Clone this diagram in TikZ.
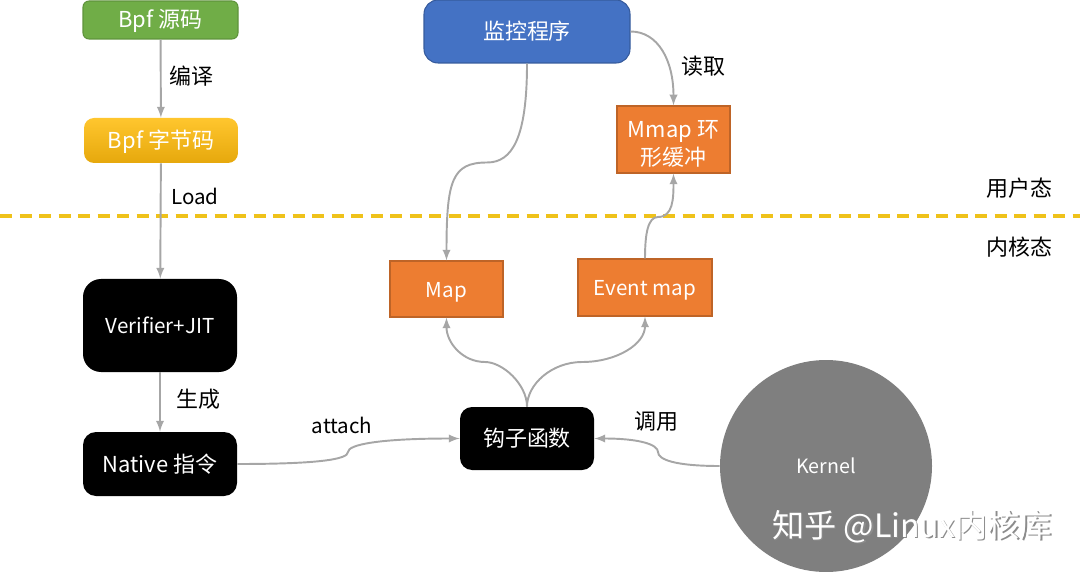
\documentclass[tikz,border=0pt]{standalone}
\usepackage{fontspec}
\setmainfont{Noto Sans CJK SC}
\definecolor{linkgray}{HTML}{A6A6A6}
\definecolor{boxorange}{HTML}{ED7D31}
\definecolor{boxgreen}{HTML}{70AD47}
\definecolor{boxblue}{HTML}{4472C4}
\definecolor{kernelgray}{HTML}{7F7F7F}
\definecolor{boundary}{HTML}{EFC21A}
\definecolor{goldtop}{HTML}{FFC62E}
\definecolor{goldbottom}{HTML}{E6A80C}
\begin{document}
\begin{tikzpicture}
		% coordinates are image pixels times 0.02, y going down
		[box/.style={rectangle,text=white,inner sep=0pt,font=\fontsize{12.5}{16}\selectfont,align=center},
		oneline/.style={text height=0.36cm,text depth=0.04cm},
		latin/.style={font=\fontsize{11.7}{16}\selectfont},
		blackbox/.style={box,oneline,fill=black},
		orangebox/.style={box,fill=boxorange,draw=boxorange!80!black,line width=0.6pt},
		caption/.style={font=\fontsize{12.5}{15.5}\selectfont,inner sep=0pt},
		link/.style={->,>=latex,draw=linkgray,line width=1.1pt},
		watermark/.style={font=\fontsize{18.3}{22}\selectfont,inner sep=0pt}]
		\useasboundingbox (0,0) rectangle (21.6,-11.44);

		\coordinate (left) at (0,-4.32);
		\coordinate (right) at (21.6,-4.32);
		\draw[boundary,line width=2pt,dash pattern=on 0.24cm off 0.15cm] (left) -- (right);

		\node[box,oneline,fill=boxgreen,draw=boxgreen!85!black,line width=0.6pt,rounded corners=0.12cm,minimum width=3.1cm,minimum height=0.76cm] (source) at (3.21,-0.40) {Bpf 源码};
		\node[box,oneline,top color=goldtop,bottom color=goldbottom,rounded corners=0.2cm,minimum width=3.08cm,minimum height=0.9cm] (bytecode) at (3.22,-2.81) {Bpf 字节码};
		\node[blackbox,latin,rounded corners=0.36cm,minimum width=3.08cm,minimum height=1.86cm] (verifier) at (3.2,-6.51) {Verifier+JIT};
		\node[blackbox,rounded corners=0.26cm,minimum width=3.08cm,minimum height=1.28cm] (native) at (3.2,-9.28) {Native 指令};
		\node[blackbox,rounded corners=0.24cm,minimum width=2.68cm,minimum height=1.26cm] (hook) at (10.54,-8.77) {钩子函数};
		\node[box,oneline,fill=boxblue,draw=boxblue!80!black,line width=0.6pt,rounded corners=0.28cm,minimum width=4.12cm,minimum height=1.26cm] (monitor) at (10.54,-0.63) {监控程序};
		\node[orangebox,minimum width=2.26cm,minimum height=1.34cm] (mmap) at (13.47,-2.79) {\rule{0pt}{15pt}Mmap 环\\形缓冲};
		\node[orangebox,oneline,latin,minimum width=2.26cm,minimum height=1.12cm] (map) at (8.93,-5.78) {Map};
		\node[orangebox,oneline,latin,minimum width=2.68cm,minimum height=1.14cm] (event) at (12.9,-5.75) {Event map};
		\node[circle,fill=kernelgray,text=white,minimum size=4.24cm,inner sep=0pt,font=\fontsize{11.2}{13}\selectfont] (kernel) at (16.52,-9.32) {Kernel};

		\coordinate (monitormid) at (9.74,-3.25);
		\coordinate (eventmid) at (13.16,-4.34);
		\coordinate (hookleft) at (9.7,-7.24);
		\coordinate (hookright) at (11.64,-7.24);
		\coordinate (nativemid) at (6.96,-9.04);
		\coordinate (kernelmid) at (13.16,-9.04);

		\draw[link] (source) -- (bytecode);
		\draw[link] (bytecode) -- (verifier);
		\draw[link] (verifier) -- (native);
		\draw[link] (monitor.south) .. controls +(0,-1.5) and +(0.5,0) .. (monitormid) .. controls +(-0.7,0) and +(0,1.6) .. (map.north);
		\draw[link] (monitor.east) .. controls +(0.55,0) and +(0,0.9) .. (mmap.north);
		\draw[link] (event.north) .. controls +(0,0.5) and +(-0.2,0) .. (eventmid) .. controls +(0.3,0) and +(0,-0.5) .. (mmap.south);
		\draw[link] (hook.north) .. controls +(0,0.45) and +(0.35,0) .. (hookleft) .. controls +(-0.45,0) and +(0,-0.5) .. (map.south);
		\draw[link] (hook.north) .. controls +(0,0.45) and +(-0.6,0) .. (hookright) .. controls +(0.7,0) and +(0,-0.55) .. (event.south);
		\draw[link] (native.east) .. controls +(1.6,0) and +(0,-0.15) .. (nativemid) .. controls +(0,0.15) and +(-1.6,0) .. (hook.west);
		\draw[link] (kernel.west) .. controls +(-0.9,0) and +(0,-0.15) .. (kernelmid) .. controls +(0,0.15) and +(0.9,0) .. (hook.east);

		\node[caption] (compile) at (3.82,-1.52) {编译};
		\node[caption,latin] (load) at (3.9,-3.92) {Load};
		\node[caption] (generate) at (3.96,-7.98) {生成};
		\node[caption,latin] (attach) at (6.84,-8.5) {attach};
		\node[caption] (call) at (13.12,-8.42) {调用};
		\node[caption] (read) at (14.06,-1.32) {读取};
		\node[caption] (userspace) at (20.38,-3.76) {用户态};
		\node[caption] (kernelspace) at (20.38,-4.94) {内核态};

		\node[watermark,text=black!45] (markshadow) at (18.27,-10.56) {知乎 @Linux内核库};
		\node[watermark,text=white] (markfront) at (18.24,-10.53) {知乎 @Linux内核库};
	\end{tikzpicture}
\end{document}
